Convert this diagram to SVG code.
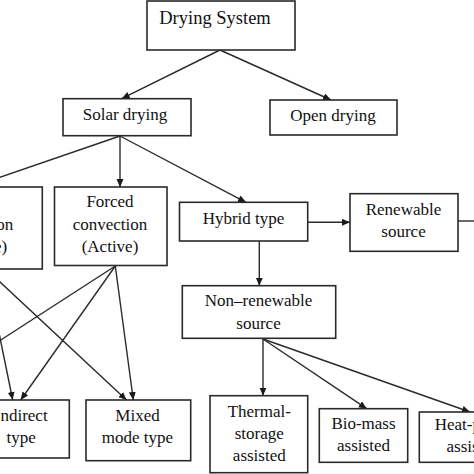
<svg xmlns="http://www.w3.org/2000/svg" width="474" height="474" viewBox="0 0 474 474" font-family="'Liberation Serif', 'Times New Roman', serif">
<defs>
<marker id="ah" markerUnits="userSpaceOnUse" markerWidth="9" markerHeight="8" refX="8" refY="3.5" orient="auto">
<path d="M0,0 L8,3.5 L0,7 z" fill="#1a1a1a"/>
</marker>
<style>
.box{fill:#fff;stroke:#2a2a2a;stroke-width:1.6}
.t{font-family:'Liberation Serif','Times New Roman',serif;font-size:17px;fill:#111;text-anchor:middle}
.c{stroke:#2a2a2a;stroke-width:1.4;fill:none}
.a{marker-end:url(#ah)}
</style>
</defs>
<rect width="474" height="474" fill="#fff"/>
<g id="connectors">
<line class="c a" x1="220" y1="50" x2="121.7" y2="98.7"/>
<line class="c a" x1="220" y1="50" x2="331" y2="100"/>
<line class="c a" x1="120" y1="136" x2="-28" y2="187"/>
<line class="c a" x1="120" y1="136" x2="120" y2="187"/>
<line class="c a" x1="120" y1="136" x2="246" y2="202.3"/>
<line class="c a" x1="308" y1="222.3" x2="350" y2="222.3"/>
<line class="c" x1="458" y1="221" x2="480" y2="221"/>
<line class="c a" x1="259.3" y1="241" x2="259.3" y2="285.7"/>
<line class="c a" x1="263" y1="339" x2="263" y2="395.7"/>
<line class="c a" x1="263" y1="339" x2="366.7" y2="408.7"/>
<line class="c a" x1="263" y1="339" x2="470" y2="412"/>
<line class="c a" x1="115.3" y1="266" x2="-92" y2="400"/>
<line class="c a" x1="115.3" y1="266" x2="20.7" y2="400"/>
<line class="c a" x1="115.3" y1="266" x2="133.3" y2="400"/>
<line class="c a" x1="-14" y1="269" x2="12.7" y2="400"/>
<line class="c a" x1="-14" y1="269" x2="126.5" y2="400"/>
</g>
<g id="drying-system">
<rect class="box" x="147" y="1" width="148" height="49"/>
<text class="t" x="215" y="24" font-size="18.5" style="font-size:18.5px">Drying System</text>
</g>
<g id="solar-drying">
<rect class="box" x="63" y="98.7" width="128" height="37"/>
<text class="t" x="125" y="120">Solar drying</text>
</g>
<g id="open-drying">
<rect class="box" x="270" y="100" width="127" height="35"/>
<text class="t" x="333" y="120.5">Open drying</text>
</g>
<g id="natural-convection">
<rect class="box" x="-72" y="187" width="114.3" height="82"/>
<text class="t" x="-24" y="229.5">convection</text>
<text class="t" x="-24" y="252">(Passive)</text>
</g>
<g id="forced-convection">
<rect class="box" x="54.5" y="187" width="112.5" height="78.5"/>
<text class="t" x="110" y="207">Forced</text>
<text class="t" x="110" y="229.5">convection</text>
<text class="t" x="110" y="252">(Active)</text>
</g>
<g id="hybrid-type">
<rect class="box" x="179.5" y="202.3" width="128.2" height="38.7"/>
<text class="t" x="243.5" y="223.5">Hybrid type</text>
</g>
<g id="renewable-source">
<rect class="box" x="350" y="193.7" width="108" height="57.6"/>
<text class="t" x="403.5" y="214.5">Renewable</text>
<text class="t" x="403.5" y="237">source</text>
</g>
<g id="non-renewable-source">
<rect class="box" x="182.3" y="285.7" width="153.4" height="52.6"/>
<text class="t" x="258.5" y="305.7">Non–renewable</text>
<text class="t" x="258.5" y="329">source</text>
</g>
<g id="indirect-type">
<rect class="box" x="-27" y="400" width="96.3" height="58"/>
<text class="t" x="21.2" y="420.7">Indirect</text>
<text class="t" x="21.2" y="443.3">type</text>
</g>
<g id="mixed-mode-type">
<rect class="box" x="86" y="400" width="104.7" height="60.7"/>
<text class="t" x="137.5" y="420.7">Mixed</text>
<text class="t" x="137.5" y="443.3">mode type</text>
</g>
<g id="thermal-storage-assisted">
<rect class="box" x="210" y="395.7" width="97.7" height="77"/>
<text class="t" x="259.3" y="417.3">Thermal-</text>
<text class="t" x="259.3" y="439">storage</text>
<text class="t" x="259.3" y="461">assisted</text>
</g>
<g id="bio-mass-assisted">
<rect class="box" x="319.3" y="408.7" width="88.4" height="53.6"/>
<text class="t" x="363.5" y="429">Bio-mass</text>
<text class="t" x="363.5" y="450.7">assisted</text>
</g>
<g id="heat-pump-assisted">
<rect class="box" x="419.3" y="412" width="108" height="50.3"/>
<text class="t" x="473" y="430">Heat-pump</text>
<text class="t" x="473" y="451.7">assisted</text>
</g>
</svg>
